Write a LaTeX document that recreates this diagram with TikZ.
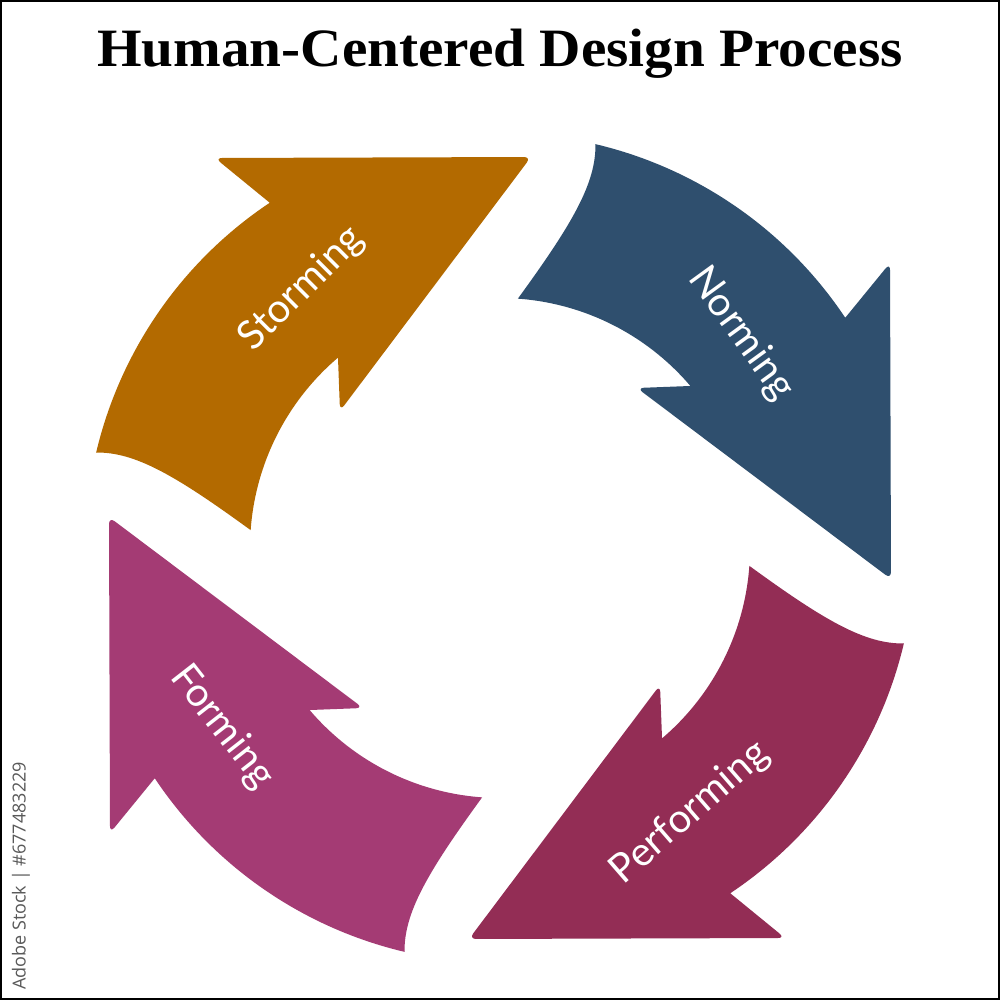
\documentclass[tikz,border=0pt]{standalone}
\usepackage{fontspec}
\setmainfont{Liberation Serif}
\newfontfamily\labelfont{Lato}
\newfontfamily\wmfont{Open Sans}
\definecolor{cStorm}{RGB}{179,106,0}
\definecolor{cNorm}{RGB}{47,79,110}
\definecolor{cPerf}{RGB}{147,45,85}
\definecolor{cForm}{RGB}{164,59,116}
\begin{document}
\begin{tikzpicture}[x=0.5pt,y=-0.5pt,
  cyclearrow/.pic={
    \fill[pic actions] (193.3:415) arc[start angle=193.3,end angle=236.3,radius=415]
      [rounded corners=3.5pt] -- (-285,-390) -- (31,-391) -- (-160,-137)
      [sharp corners] -- (229.6:250) arc[start angle=229.6,end angle=184.1,radius=250]
      .. controls (-325,-73) and (-365,-96) .. (193.3:415) -- cycle;
  },
  lbl/.style={text=white, font=\labelfont\fontsize{20}{24}\selectfont, inner sep=0pt}
]
\useasboundingbox (0,0) rectangle (1000,1000);
\fill[white] (0,0) rectangle (1000,1000);
\draw[line width=1pt] (1,1) rectangle (999,999);

\node[anchor=base, font=\bfseries\fontsize{27}{30}\selectfont] (title) at (500,67) {\scalebox{1.06}[1]{Human-Centered Design Process}};

\pic[fill=cStorm] (storm) at (500,548) {cyclearrow};
\pic[fill=cNorm, rotate=-90] (norm) at (500,548) {cyclearrow};
\pic[fill=cPerf, rotate=180] (perf) at (500,548) {cyclearrow};
\pic[fill=cForm, rotate=90] (form) at (500,548) {cyclearrow};

\node[lbl, rotate=45] (storming) at (302,289) {Storming};
\node[lbl, rotate=-54] (norming) at (741,334) {Norming};
\node[lbl, rotate=41] (performing) at (690,813) {Performing};
\node[lbl, rotate=-52] (forming) at (222,727) {Forming};

\node[rotate=90, text=black!65, font=\wmfont\fontsize{9}{10}\selectfont, inner sep=0pt] (wm) at (21,876) {Adobe Stock | \#677483229};
\end{tikzpicture}
\end{document}
